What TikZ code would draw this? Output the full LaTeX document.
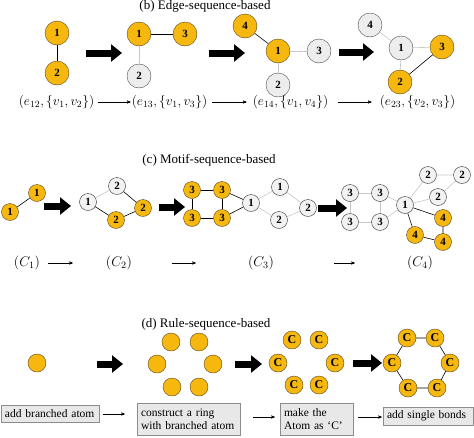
\documentclass[tikz,border=0pt]{standalone}
\usepackage{fix-cm}
\usepackage{fontspec}
\setmainfont{Liberation Serif}
\usetikzlibrary{arrows,arrows.meta}

\definecolor{gold}{RGB}{246,184,14}
\definecolor{rim}{RGB}{90,70,30}

\begin{document}
\begin{tikzpicture}[x=1pt,y=-1pt,
    atom/.style={circle,draw=rim,fill=gold,minimum size=24pt,inner sep=0pt,
      font=\fontsize{11}{11}\selectfont\bfseries},
    ghost/.style={atom,draw=black!70,fill=black!7},
    frag/.style={circle,draw=rim,fill=gold,minimum size=17pt,inner sep=0pt,
      font=\fontsize{11}{11}\selectfont\bfseries},
    fragghost/.style={frag,draw=black!80,fill=black!5},
    bead/.style={circle,draw=rim,fill=gold,minimum size=18pt,inner sep=0pt,
      font=\fontsize{12}{12}\selectfont\bfseries},
    bond/.style={semithick,black},
    lightbond/.style={semithick,black!22},
    bigarrow/.style={line width=7pt,-{Triangle[length=11pt,width=17pt]}},
    seqarrow/.style={->,>=stealth',thin},
    heading/.style={font=\fontsize{13}{13}\selectfont},
    seqlab/.style={inner sep=0pt,font=\fontsize{13.5}{14}\selectfont},
    motiflab/.style={inner sep=0pt,font=\fontsize{14}{14}\selectfont},
    rulebox/.style={draw=black!45,fill=black!9,inner xsep=4pt,inner ysep=2pt,
      align=left,font=\fontsize{11.5}{13}\selectfont}]

    \useasboundingbox (0,0) rectangle (474,437);

    % (b) edge sequence
    \node[heading] (tb) at (205,6) {(b) Edge-sequence-based};

    \node[atom] (a1) at (57,33) {1};
    \node[atom] (a2) at (57,73) {2};
    \draw[bond] (a1) -- (a2);

    \node[atom] (b1) at (139,34) {1};
    \node[atom] (b3) at (185,34) {3};
    \node[ghost] (b2) at (139,76) {2};
    \draw[bond] (b1) -- (b3);
    \draw[lightbond] (b1) -- (b2);

    \node[atom] (c4) at (245,26) {4};
    \node[atom] (c1) at (278,51) {1};
    \node[ghost] (c3) at (319,51) {3};
    \node[ghost] (c2) at (278,85) {2};
    \draw[bond] (c4) -- (c1);
    \draw[lightbond] (c1) -- (c3) (c1) -- (c2);

    \node[ghost] (d4) at (370,25) {4};
    \node[ghost] (d1) at (401,48) {1};
    \node[atom] (d3) at (442,47) {3};
    \node[atom] (d2) at (400,82) {2};
    \draw[lightbond] (d4) -- (d1) (d1) -- (d3) (d1) -- (d2);
    \draw[bond] (d2) -- (d3);

    \draw[bigarrow] (86,53) -- (122,53);
    \draw[bigarrow] (209,53) -- (245,53);
    \draw[bigarrow] (339,52) -- (374,52);

    \node[seqlab] (e1) at (56.5,102) {$(e_{12},\{v_1,v_2\})$};
    \node[seqlab] (e2) at (169.5,102) {$(e_{13},\{v_1,v_3\})$};
    \node[seqlab] (e3) at (290.5,102) {$(e_{14},\{v_1,v_4\})$};
    \node[seqlab] (e4) at (417.5,102) {$(e_{23},\{v_2,v_3\})$};
    \draw[seqarrow,shorten <=4pt,shorten >=1pt] (e1) -- (e2);
    \draw[seqarrow,shorten <=5pt,shorten >=6pt] (e2) -- (e3);
    \draw[seqarrow,shorten <=10pt,shorten >=8pt] (e3) -- (e4);

    % (c) motif sequence
    \node[heading] (tc) at (209,160) {(c) Motif-sequence-based};

    \node[frag] (m1a) at (10,212) {1};
    \node[frag] (m1b) at (37,193) {1};
    \draw[bond] (m1a) -- (m1b);

    \node[fragghost] (n1) at (88,202) {1};
    \node[fragghost] (n2) at (117,186) {2};
    \node[frag] (n3) at (143,208) {2};
    \node[frag] (n4) at (116,220) {2};
    \draw[lightbond] (n1) -- (n2);
    \draw[bond] (n2) -- (n3) -- (n4) -- (n1);

    \node[frag] (p1) at (192,190) {3};
    \node[frag] (p2) at (222,190) {3};
    \node[frag] (p3) at (192,218) {3};
    \node[frag] (p4) at (222,218) {3};
    \node[fragghost] (p5) at (251,203) {1};
    \node[fragghost] (p6) at (280,187) {1};
    \node[fragghost] (p7) at (279,220) {2};
    \node[fragghost] (p8) at (308,208) {2};
    \draw[bond] (p1) -- (p2) -- (p4) -- (p3) -- (p1);
    \draw[bond] (p2) -- (p5) -- (p4);
    \draw[lightbond] (p5) -- (p6) -- (p8) -- (p7) -- (p5);

    \node[fragghost] (q1) at (350,193) {3};
    \node[fragghost] (q2) at (380,193) {3};
    \node[fragghost] (q3) at (350,222) {3};
    \node[fragghost] (q4) at (380,222) {3};
    \node[fragghost] (q5) at (405,205) {1};
    \node[fragghost] (q6) at (428,175) {2};
    \node[fragghost] (q7) at (462,175) {2};
    \node[fragghost] (q8) at (438,197) {2};
    \node[frag] (q9) at (443,218) {4};
    \node[frag] (q10) at (415,235) {4};
    \node[frag] (q11) at (443,242) {4};
    \draw[lightbond] (q1) -- (q2) -- (q4) -- (q3) -- (q1);
    \draw[lightbond] (q2) -- (q5) -- (q4);
    \draw[lightbond] (q5) -- (q6) -- (q7) -- (q8) -- (q5);
    \draw[bond] (q5) -- (q9) -- (q11) -- (q10) -- (q5);

    \draw[bigarrow] (44,206) -- (71,206);
    \draw[bigarrow] (159,207) -- (185,207);
    \draw[bigarrow] (318,208) -- (347,208);

    \node[motiflab] (k1) at (27,263) {$(C_1)$};
    \node[motiflab] (k2) at (119,263) {$(C_2)$};
    \node[motiflab] (k3) at (261,263) {$(C_3)$};
    \node[motiflab] (k4) at (420,263) {$(C_4)$};
    \draw[seqarrow,shorten <=8pt,shorten >=33pt] (k1) -- (k2);
    \draw[seqarrow,shorten <=40pt,shorten >=52pt] (k2) -- (k3);
    \draw[seqarrow,shorten <=60pt,shorten >=52pt] (k3) -- (k4);

    % (d) rule sequence
    \node[heading] (td) at (206,324) {(d) Rule-sequence-based};

    \node[bead] (r0) at (37,363) {};

    \node[bead] (s1) at (171,342) {};
    \node[bead] (s2) at (199,342) {};
    \node[bead] (s3) at (157,364) {};
    \node[bead] (s4) at (213,364) {};
    \node[bead] (s5) at (172,387) {};
    \node[bead] (s6) at (199,387) {};

    \node[bead] (u1) at (292,340) {C};
    \node[bead] (u2) at (319,340) {C};
    \node[bead] (u3) at (278,363) {C};
    \node[bead] (u4) at (335,363) {C};
    \node[bead] (u5) at (294,385) {C};
    \node[bead] (u6) at (319,385) {C};

    \node[bead] (w1) at (407,338) {C};
    \node[bead] (w2) at (435,338) {C};
    \node[bead] (w3) at (392,363) {C};
    \node[bead] (w4) at (450,363) {C};
    \node[bead] (w5) at (408,388) {C};
    \node[bead] (w6) at (437,388) {C};
    \draw[bond] (w1) -- (w2) -- (w4) -- (w6) -- (w5) -- (w3) -- (w1);

    \draw[bigarrow] (97,364) -- (123,364);
    \draw[bigarrow] (235,364) -- (262,364);
    \draw[bigarrow] (353,363) -- (382,363);

    \node[rulebox,text width=90pt,minimum height=17pt] (x1) at (50,414) {add branched atom};
    \node[rulebox,text width=95pt,minimum height=32pt] (x2) at (188.5,419) {construct a ring\\with branched atom};
    \node[rulebox,text width=65pt,minimum height=32pt] (x3) at (316.5,419) {make the\\Atom as `C'};
    \node[rulebox,text width=82pt,minimum height=18pt] (x4) at (428,416) {add single bonds};
    \draw[seqarrow,shorten <=4pt,shorten >=12pt] (x1.east) -- (x1.east -| x2.west);
    \draw[seqarrow,shorten <=13pt,shorten >=5pt] (x2.east |- 0,417) -- (x3.west |- 0,417);
    \draw[seqarrow,shorten <=5pt,shorten >=1pt] (x3.east |- 0,417) -- (x4.west |- 0,417);
\end{tikzpicture}
\end{document}
